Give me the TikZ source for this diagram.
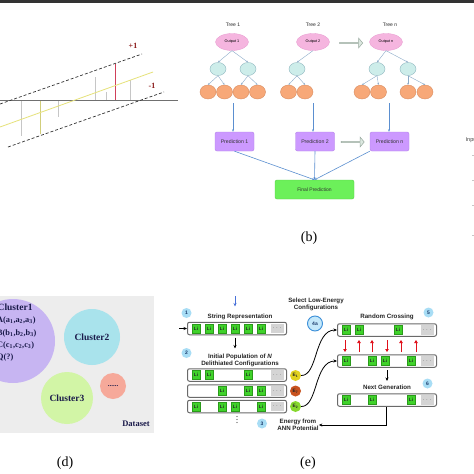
\documentclass[tikz,border=0pt]{standalone}
\usepackage{fontspec}
\setmainfont{Liberation Serif}
\setsansfont{Liberation Sans}
\usetikzlibrary{shapes.geometric,shapes.arrows,arrows.meta}
\definecolor{topbar}{HTML}{333333}
\definecolor{axisgray}{HTML}{707070}
\definecolor{svmyellow}{HTML}{E6E27A}
\definecolor{darkred}{HTML}{8B1A1A}
\definecolor{redline}{HTML}{D0405A}
\definecolor{pinkfill}{HTML}{F5B5DF}
\definecolor{pinkdraw}{HTML}{E89AD0}
\definecolor{tealfill}{HTML}{CDEDEA}
\definecolor{tealdraw}{HTML}{8FB8C0}
\definecolor{orangefill}{HTML}{F7A878}
\definecolor{orangedraw}{HTML}{D98C60}
\definecolor{treeline}{HTML}{8AAAC8}
\definecolor{bluearrow}{HTML}{5B8FD0}
\definecolor{predfill}{HTML}{CC99FF}
\definecolor{preddraw}{HTML}{B482E8}
\definecolor{finalfill}{HTML}{6CF05A}
\definecolor{finaldraw}{HTML}{55D048}
\definecolor{blockfill}{HTML}{DCE8E0}
\definecolor{blockdraw}{HTML}{9AAAA0}
\definecolor{dsbg}{HTML}{EDEDED}
\definecolor{c1fill}{HTML}{C7B5F2}
\definecolor{c2fill}{HTML}{A9E3EC}
\definecolor{c3fill}{HTML}{D2F5A6}
\definecolor{c4fill}{HTML}{F6A99A}
\definecolor{clustertext}{HTML}{1A1A4A}
\definecolor{numfill}{HTML}{A8DDF5}
\definecolor{numtext}{HTML}{1A3A6A}
\definecolor{fourafill}{HTML}{C4E8FA}
\definecolor{fouradraw}{HTML}{3A8ED8}
\definecolor{ligreen}{HTML}{3FD22A}
\definecolor{ligreendraw}{HTML}{2A9A1A}
\definecolor{rowdraw}{HTML}{6A6A6A}
\definecolor{dotfill}{HTML}{D4D4D4}
\definecolor{eone}{HTML}{E2D21E}
\definecolor{eseven}{HTML}{C8521E}
\definecolor{etwo}{HTML}{86D82E}
\definecolor{crossred}{HTML}{E0101A}
\newcommand{\garow}[4]{%
  \node[rowbox, anchor=west] (#1) at (#2,#3) {};
  \foreach \s in {#4} {\node[licell] at ({#2-4+13*\s},#3) {Li};}
  \node[dotcell] at ({#2+90},#3) {$\cdots$};
}
\begin{document}
\begin{tikzpicture}[x=1pt,y=-1pt,
  svmdash/.style={draw=black!80, line width=0.7, dash pattern=on 3pt off 2pt},
  vline/.style={draw=gray!45, line width=0.45},
  outell/.style={ellipse, fill=pinkfill, draw=pinkdraw, line width=0.3, minimum width=33, minimum height=17, inner sep=0, font=\sffamily\fontsize{3.8}{4}\selectfont},
  tealnode/.style={ellipse, fill=tealfill, draw=tealdraw, line width=0.4, minimum width=16, minimum height=13, inner sep=0},
  orangenode/.style={ellipse, fill=orangefill, draw=orangedraw, line width=0.4, minimum width=16, minimum height=14, inner sep=0},
  treelbl/.style={font=\sffamily\fontsize{5}{5}\selectfont, text=black!85},
  tline/.style={draw=treeline, line width=0.4, -{Stealth[length=2pt,width=1.8pt]}},
  barrow/.style={draw=bluearrow, line width=0.6, -{Stealth[length=2.5pt,width=2pt]}},
  predbox/.style={rectangle, rounded corners=2, fill=predfill, draw=preddraw, line width=0.4, minimum width=39, minimum height=19, inner sep=0, font=\sffamily\fontsize{5.2}{5.5}\selectfont, text=black!80},
  finalbox/.style={rectangle, rounded corners=2, fill=finalfill, draw=finaldraw, line width=0.4, minimum width=79, minimum height=19, inner sep=0, font=\sffamily\fontsize{5}{5.5}\selectfont, text=black!80},
  blockarrow/.style={single arrow, fill=blockfill, draw=blockdraw, line width=0.5, minimum width=10, single arrow head extend=2, minimum height=23, inner sep=0, single arrow tip angle=100},
  panellbl/.style={font=\fontsize{14}{14}\selectfont},
  cluster/.style={circle, inner sep=0, draw=none},
  ctext/.style={font=\bfseries\fontsize{9.5}{10}\selectfont, text=clustertext},
  c1text/.style={font=\bfseries\fontsize{8.3}{9}\selectfont, text=clustertext, anchor=west, inner sep=0},
  numcirc/.style={circle, fill=numfill, minimum size=10, inner sep=0, font=\sffamily\bfseries\fontsize{5}{5}\selectfont, text=numtext},
  gtext/.style={font=\sffamily\bfseries\fontsize{6.2}{6.9}\selectfont, text=black!85, align=center, inner sep=0},
  rowbox/.style={rectangle, rounded corners=2, fill=white, draw=rowdraw, line width=1, minimum width=99, minimum height=12.5, inner sep=0},
  licell/.style={rectangle, fill=ligreen, draw=ligreendraw, line width=0.3, minimum width=8.5, minimum height=9, inner sep=0, font=\sffamily\bfseries\fontsize{4.6}{4.6}\selectfont, text=black!85},
  dotcell/.style={rectangle, fill=dotfill, minimum width=13, minimum height=9.5, inner sep=0, font=\fontsize{6}{6}\selectfont, text=black!70},
  ecirc/.style={circle, minimum size=11, inner sep=0, font=\sffamily\bfseries\fontsize{4.8}{5}\selectfont, text=black!85},
  karrow/.style={draw=black, line width=0.8, -{Stealth[length=3.5pt,width=3pt]}},
  redarrow/.style={draw=crossred, line width=1, -{Triangle[length=3pt,width=3.5pt]}}
]
\useasboundingbox (0,0) rectangle (474,474);
\fill[white] (0,0) rectangle (474,474);
\fill[topbar] (0,0) rectangle (474,2.5);

% ---------------- panel (a) ----------------
\draw[vline] (21,100) -- (21,136);
\draw[draw=svmyellow!80!gray, line width=0.45] (40,100) -- (40,134);
\draw[vline] (58,100) -- (58,117);
\draw[vline] (95,77) -- (95,100);
\draw[vline] (106,92) -- (106,100);
\draw[vline] (130,80) -- (130,100);
\draw[draw=redline, line width=0.8] (115,64) -- (115,100);
\draw[draw=axisgray, line width=0.8] (0,100) -- (178,100);
\draw[svmdash] (0,104) -- (142,54);
\draw[svmdash] (8,147) -- (164,92);
\draw[draw=svmyellow, line width=0.8] (0,127) -- (153,72);
\node[font=\bfseries\fontsize{8}{8}\selectfont, text=darkred] (plusone) at (133,46) {+1};
\node[font=\bfseries\fontsize{8}{8}\selectfont, text=darkred] (minusone) at (152,86) {-1};

% ---------------- panel (b) ----------------
\node[treelbl] (t1) at (233,25) {Tree 1};
\node[treelbl] (t2) at (313,25) {Tree 2};
\node[treelbl] (tn) at (390,25) {Tree n};
\node[outell] (o1) at (232,42) {Output 1};
\node[outell] (o2) at (313,42) {Output 2};
\node[outell] (on) at (386,42) {Output n};
\node[blockarrow] (ba1) at (351,43) {};
% tree 1
\node[tealnode] (t1a) at (218,69) {};
\node[tealnode] (t1b) at (248,69) {};
\node[orangenode] (l1a) at (208,92) {};
\node[orangenode] (l1b) at (224.5,92) {};
\node[orangenode] (l1c) at (241,92) {};
\node[orangenode] (l1d) at (257.5,92) {};
\draw[tline] (o1.south) -- (t1a.north);
\draw[tline] (o1.south) -- (t1b.north);
\draw[tline] (t1a.south) -- (l1a.north);
\draw[tline] (t1a.south) -- (l1b.north);
\draw[tline] (t1b.south) -- (l1c.north);
\draw[tline] (t1b.south) -- (l1d.north);
% tree 2
\node[tealnode] (t2a) at (297,69) {};
\node[orangenode] (l2a) at (288.5,92) {};
\node[orangenode] (l2b) at (305,92) {};
\draw[tline] (o2.south) -- (t2a.north);
\draw[tline] (t2a.south) -- (l2a.north);
\draw[tline] (t2a.south) -- (l2b.north);
% tree n
\node[tealnode] (tna) at (377,69) {};
\node[tealnode] (tnb) at (408,69) {};
\node[orangenode] (lna) at (362,92) {};
\node[orangenode] (lnb) at (378.5,92) {};
\node[orangenode] (lnc) at (408,92) {};
\node[orangenode] (lnd) at (425,92) {};
\draw[tline] (on.south) -- (tna.north);
\draw[tline] (on.south) -- (tnb.north);
\draw[tline] (tna.south) -- (lna.north);
\draw[tline] (tna.south) -- (lnb.north);
\draw[tline] (tnb.south) -- (lnc.north);
\draw[tline] (tnb.south) -- (lnd.north);
% predictions
\node[predbox] (p1) at (234.5,141.5) {Prediction 1};
\node[predbox] (p2) at (315,141.5) {Prediction 2};
\node[predbox] (pn) at (389.5,141.5) {Prediction n};
\node[blockarrow] (ba2) at (352.5,142) {};
\coordinate (d1) at (233,103);
\coordinate (d2) at (313,103);
\coordinate (dn) at (389,103);
\draw[barrow] (d1) -- (d1 |- p1.north);
\draw[barrow] (d2) -- (d2 |- p2.north);
\draw[barrow] (dn) -- (dn |- pn.north);
\node[finalbox] (fp) at (314.5,189.5) {Final Prediction};
\draw[barrow] (p1.south) -- (fp.north);
\draw[barrow] (p2.south) -- (fp.north);
\draw[barrow] (pn.south west) -- (fp.north);
\node[panellbl] (lb) at (309,238) {(b)};

% ---------------- panel (c) fragment ----------------
\node[font=\sffamily\fontsize{5.5}{5.5}\selectfont, text=black!75, anchor=west, inner sep=0] (inp) at (465.5,140.5) {Input};
\foreach \yy in {155,180,205,235} {\draw[draw=gray!45, line width=0.5] (472,\yy) -- (474,\yy);}

% ---------------- panel (d) ----------------
\fill[dsbg] (0,296) rectangle (154,433);
\node[cluster, fill=c1fill, minimum size=84] (c1) at (13,341) {};
\node[cluster, fill=c2fill, minimum size=56] (c2) at (92,337) {};
\node[cluster, fill=c3fill, minimum size=52] (c3) at (67,398) {};
\node[cluster, fill=c4fill, minimum size=26] (c4) at (113,386) {};
\node[ctext] at (c2) {Cluster2};
\node[ctext] at (c3) {Cluster3};
\node[font=\bfseries\fontsize{7}{7}\selectfont, text=clustertext] at (c4) {......};
\node[c1text, font=\bfseries\fontsize{9.5}{10}\selectfont] at (-2.5,307.5) {Cluster1};
\node[c1text] at (-3,320.5) {A(a\textsubscript{1},a\textsubscript{2},a\textsubscript{3})};
\node[c1text] at (-3,333) {B(b\textsubscript{1},b\textsubscript{2},b\textsubscript{3})};
\node[c1text] at (-3,345) {C(c\textsubscript{1},c\textsubscript{2},c\textsubscript{3})};
\node[c1text] at (-3,357) {Q(?)};
\node[font=\bfseries\fontsize{8.5}{9}\selectfont, text=clustertext] (ds) at (136,424) {Dataset};
\node[panellbl] (ld) at (65,463) {(d)};

% ---------------- panel (e) ----------------
\coordinate (bin1) at (235,296);
\coordinate (bin2) at (235,306.5);
\draw[draw=bluearrow!80!blue, line width=1, -{Stealth[length=3.5pt,width=3pt]}] (bin1) -- (bin2);
\node[numcirc] (n1) at (186.5,313) {1};
\node[gtext] (srt) at (240,317) {String Representation};
\garow{sr}{187}{328.5}{1,2,3,4,5,6}
\coordinate (srin) at (179,328.5);
\draw[karrow] (srin) -- (sr.west);
\coordinate (sd1) at (235,337.5);
\coordinate (sd2) at (235,348.5);
\draw[karrow] (sd1) -- (sd2);
\node[numcirc] (n2) at (186.5,353) {2};
\node[gtext] (ipt) at (240,360.5) {Initial Population of \textit{N}\\Delithiated Configurations};
\garow{pa}{187}{375}{1,2,5}
\garow{pb}{187}{391}{3,5,6}
\garow{pc}{187}{406.5}{1,3,4,6}
\foreach \yy in {416.5,419.5,422.5} {\fill[black!70] (237,\yy) circle (0.55);}
\node[ecirc, fill=eone] (e1) at (295.5,375.5) {E\textsubscript{1}};
\node[ecirc, fill=eseven] (e7) at (295.5,391) {E\textsubscript{7}};
\node[ecirc, fill=etwo] (e2) at (295.5,406.5) {E\textsubscript{2}};
\node[gtext] (slt) at (316,304) {Select Low-Energy\\Configurations};
\node[circle, fill=fourafill, draw=fouradraw, line width=0.9, minimum size=15, inner sep=0, font=\sffamily\bfseries\fontsize{5}{5}\selectfont, text=numtext] (n4a) at (315,323.5) {4a};
\node[gtext] (rct) at (387,317) {Random Crossing};
\node[numcirc] (n5) at (428.5,312.5) {5};
\garow{ca}{337}{330}{1,2,5}
\garow{cb}{337}{361}{1,3,4,6}
\foreach \xx/\dir in {345/1,359/0,372/0,387/1,401/0,416/0} {
  \ifnum\dir=1
    \draw[redarrow] (\xx,340) -- (\xx,352);
  \else
    \draw[redarrow] (\xx,352) -- (\xx,340);
  \fi
}
\draw[karrow] (e1.east) .. controls (318,376) and (314,330) .. (ca.west);
\draw[karrow] (e2.east) .. controls (318,407) and (314,361) .. (cb.west);
\coordinate (cd1) at (387,370);
\coordinate (cd2) at (387,381);
\draw[karrow] (cd1) -- (cd2);
\node[gtext] (ngt) at (387,387.5) {Next Generation};
\node[numcirc] (n6) at (427.5,383.5) {6};
\garow{ng}{337}{400}{1,3,6}
\node[numcirc] (n3) at (262,423.5) {3};
\node[gtext] (ent) at (298,425) {Energy from\\ANN Potential};
\coordinate (ngo) at (386,407);
\draw[draw=black, line width=0.8, -{Stealth[length=3.5pt,width=3pt]}] (ngo) |- (ent.east);
\node[panellbl] (le) at (308,463) {(e)};
\end{tikzpicture}
\end{document}
